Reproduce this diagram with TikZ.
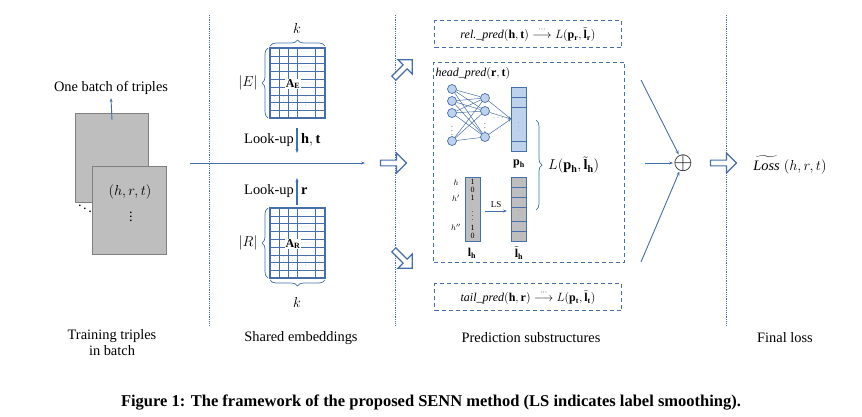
\documentclass[tikz,border=0pt]{standalone}
\usepackage{fontspec}
\setmainfont{Liberation Serif}
\usepackage{amsmath,amssymb}
\usetikzlibrary{shapes.arrows,decorations.pathreplacing,arrows.meta}
\definecolor{bl}{RGB}{70,110,170}
\definecolor{lbl}{RGB}{190,210,236}
\definecolor{gr}{RGB}{190,190,190}
\begin{document}
\begin{tikzpicture}[x=1pt,y=-1pt,font=\fontsize{14.4}{16}\selectfont,
  sep/.style={bl,densely dotted,line width=0.8pt},
  con/.style={bl,line width=0.9pt,-{Stealth[length=4pt]}},
  blk/.style={single arrow,draw=bl,line width=1.2pt,fill=white,minimum height=26pt,minimum width=20pt,single arrow head extend=4pt,inner sep=1pt},
  dbox/.style={draw=bl,dash pattern=on 4pt off 3pt,line width=1pt},
  brc/.style={bl,decorate,decoration={brace,amplitude=6pt},line width=0.7pt},
  vec/.style={draw=bl,line width=1pt},
  neu/.style={circle,draw=bl,fill=lbl,minimum size=9pt,inner sep=0pt,line width=0.7pt}]
\useasboundingbox (0,0) rectangle (862,416);
% separators
\draw[sep] (209,15) -- (209,325);
\draw[sep] (395,15) -- (395,325);
\draw[sep] (726,15) -- (726,325);
% left: triples
\node[draw=gray,fill=gr,minimum width=73pt,minimum height=89pt,anchor=north west,inner sep=0] (b1) at (75,113) {};
\node[draw=gray,fill=gr,minimum width=74pt,minimum height=88pt,anchor=north west,inner sep=0] (b2) at (92,166) {};
\node (hrt) at (130,192) {$(h,r,t)$};
\node (vd) at (131,214) {$\vdots$};
\node (dd) at (85,206) {$\ddots$};
\node (batch) at (111,88) {One batch of triples};
\draw[con] (112,120) -- (batch.south);
\coordinate (ms) at (190,163);
\coordinate (me) at (365,163);
\draw[con] (ms) -- (me);
% matrices
\foreach \nm/\yt/\lab in {E/48/{$\mathbf{A_E}$},R/208/{$\mathbf{A_R}$}}{
  \begin{scope}[shift={(270,\yt)}]
    \fill[white] (0,0) rectangle (55,70);
    \foreach \c in {0,9,18,27,45,55} \draw[bl,line width=0.6pt] (\c,0) -- (\c,70);
    \foreach \r in {0,7.8,15.6,23.4,31.2,39,46.8,54.6,62.4,70} \draw[bl,line width=0.6pt] (0,\r) -- (55,\r);
    \draw[bl,line width=1.2pt] (0,0) rectangle (55,70);
    \foreach \r in {0,1,2,3,4,7} \node[bl,font=\tiny,inner sep=0] at (36,\r*7.8+3.9) {$\cdots$};
    \foreach \c in {4.5,13.5,22.5,36,50} \node[bl,font=\tiny,inner sep=0] at (\c,50.7) {$\vdots$};
    \node[fill=white,inner sep=0.5pt,font=\fontsize{12}{14}\selectfont] (A\nm) at (23,36) {\lab};
  \end{scope}}
\draw[brc] (268,118) -- (268,48);
\node (E) at (248,83) {$|E|$};
\draw[brc] (270,46) -- (325,46);
\node (k1) at (297,28) {$k$};
\draw[brc] (268,278) -- (268,208);
\node (R) at (248,243) {$|R|$};
\draw[brc] (325,280) -- (270,280);
\node (k2) at (297,302) {$k$};
\node[anchor=east,inner sep=1pt] (lu1) at (295,140) {Look-up};
\draw[con,line width=1.2pt] (297,128) -- (297,153);
\node[anchor=west,inner sep=1pt] (ht) at (300,140) {$\mathbf{h},\mathbf{t}$};
\node[anchor=east,inner sep=1pt] (lu2) at (295,191) {Look-up};
\draw[con,line width=1.2pt] (297,205) -- (297,178);
\node[anchor=west,inner sep=1pt] (rr) at (300,191) {$\mathbf{r}$};
% block arrows
\node[blk,rotate=45] (ba1) at (402,70) {};
\node[blk] (ba2) at (392,163) {};
\node[blk,rotate=-45] (ba3) at (402,258) {};
% rel box
\node[dbox,minimum width=187pt,minimum height=27pt,inner sep=2pt,font=\fontsize{12}{14}\selectfont] (rel) at (528,34) {\textit{rel.\_pred}$(\mathbf{h},\mathbf{t})\overset{\cdots}{\longrightarrow}L(\mathbf{p_r},\tilde{\mathbf{l}}_{\mathbf{r}})$};
\node[dbox,minimum width=187pt,minimum height=27pt,inner sep=2pt,font=\fontsize{12}{14}\selectfont] (tail) at (528,297) {\textit{tail\_pred}$(\mathbf{h},\mathbf{r})\overset{\cdots}{\longrightarrow}L(\mathbf{p_t},\tilde{\mathbf{l}}_{\mathbf{t}})$};
\node[dbox,minimum width=191pt,minimum height=200pt,inner sep=0] (head) at (529,162) {};
\node[anchor=west,font=\fontsize{12}{14}\selectfont] (hp) at (432,73) {\textit{head\_pred}$(\mathbf{r},\mathbf{t})$};
% network
\foreach \i/\y in {1/89,2/101,3/113,4/141} \node[neu] (i\i) at (452,\y) {};
\node[bl,font=\small] at (452,128) {$\vdots$};
\foreach \j/\y in {1/98,2/111,3/137} \node[neu] (h\j) at (485,\y) {};
\node[bl,font=\small] at (485,125) {$\vdots$};
\foreach \i in {1,2,3,4} \foreach \j in {1,2,3} \draw[bl,line width=0.5pt] (i\i) -- (h\j);
\node[bl,font=\small] (hd) at (499,118) {$\cdots$};
\foreach \j in {1,2,3} \draw[bl,line width=0.5pt,-{Stealth[length=3pt]}] (h\j) -- (511,119);
% p_h vector
\fill[lbl] (511,87) rectangle (526,151);
\foreach \r in {87,97,107,141,151} \draw[bl,line width=0.6pt] (511,\r) -- (526,\r);
\draw[vec] (511,87) rectangle (526,151);
\node[bl,font=\tiny] at (518.5,124) {$\vdots$};
\node[font=\fontsize{12}{14}\selectfont] (ph) at (519,164) {$\mathbf{p_h}$};
% l_h vectors
\fill[gr] (465,177) rectangle (480,241);
\draw[vec] (465,177) rectangle (480,241);
\foreach \y/\t in {182/1,190/0,198/1,228/1,236/0} \node[font=\footnotesize,inner sep=0] at (472.5,\y) {\t};
\node[font=\scriptsize] at (472.5,213) {$\vdots$};
\node[font=\footnotesize] (lh1) at (456,183) {$h$};
\node[font=\footnotesize] (lh2) at (456,198) {$h'$};
\node[font=\footnotesize] (lh3) at (456,227) {$h''$};
\node[font=\fontsize{12}{14}\selectfont] (lh) at (472,253) {$\mathbf{l_h}$};
\coordinate (lsa) at (485,211);
\coordinate (lsb) at (507,211);
\draw[con] (lsa) -- node[above,font=\small,black] {LS} (lsb);
\fill[gr] (511,177) rectangle (526,241);
\foreach \r in {187,197,207,221,231} \draw[bl,line width=0.6pt] (511,\r) -- (526,\r);
\draw[vec] (511,177) rectangle (526,241);
\node[bl,font=\tiny] at (518.5,212) {$\vdots$};
\node[font=\fontsize{12}{14}\selectfont] (tlh) at (519,253) {$\tilde{\mathbf{l}}_{\mathbf{h}}$};
\draw[brc] (536,120) -- (536,210);
\node[anchor=west,inner sep=1pt] (L) at (547,165) {$L(\mathbf{p_h},\tilde{\mathbf{l}}_{\mathbf{h}})$};
% oplus
\node[inner sep=0,font=\fontsize{24.88}{26}\selectfont] (op) at (683,163) {$\oplus$};
\draw[con] (641,80) -- (op);
\draw[con] (641,262) -- (op);
\draw[con] (645,163) -- (op);
\node[blk] (ba4) at (722,163) {};
\node (loss) at (790,165) {$\widetilde{\mathit{Loss}}\;(h,r,t)$};
% bottom labels
\node[align=center] (t1) at (112,343) {Training triples\\in batch};
\node (t2) at (301,338) {Shared embeddings};
\node (t3) at (531,338) {Prediction substructures};
\node (t4) at (785,338) {Final loss};
\node[font=\fontsize{16.5}{18}\selectfont\bfseries] (cap) at (431,403) {Figure 1: The framework of the proposed SENN method (LS indicates label smoothing).};
\end{tikzpicture}
\end{document}
